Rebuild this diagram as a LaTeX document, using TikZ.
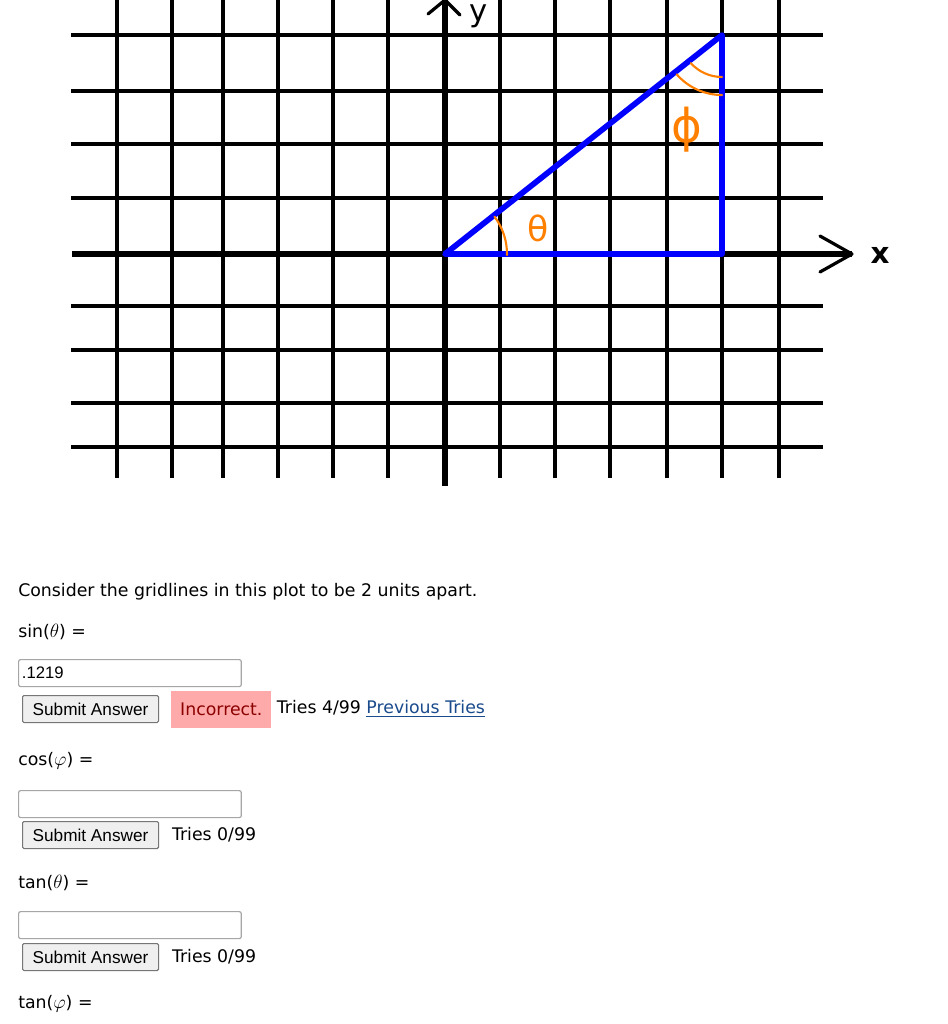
\documentclass[tikz,border=0pt]{standalone}
\usepackage{fontspec}
\usepackage{xcolor}
\usepackage{amsmath}
\setmainfont{DejaVu Sans}
\newfontfamily\btnfont{Liberation Sans}
\usepackage{tikz}
\usetikzlibrary{positioning}
\usetikzlibrary{calc}

\definecolor{triblue}{HTML}{0000FF}
\definecolor{angleorange}{HTML}{FF8000}
\definecolor{boxedge}{HTML}{A6A6A6}
\definecolor{btnfill}{HTML}{EFEFEF}
\definecolor{btnedge}{HTML}{767676}
\definecolor{wrongbg}{HTML}{FFAAAA}
\definecolor{wrongtext}{HTML}{8B0000}
\definecolor{linkblue}{HTML}{1A4B8C}

\tikzset{
    gridline/.style = {black, line width=2.3pt},
    axisline/.style = {black, line width=4pt},
    arrowarm/.style = {black, line width=2.4pt, line cap=round, line join=round},
    triline/.style = {triblue, line width=4.3pt, line join=round, line cap=round},
    anglearc/.style = {angleorange, line width=1.6pt, line cap=round},
    angletext/.style = {text=angleorange, inner sep=0pt},
    prompt/.style = {anchor=base west, inner sep=0pt, font=\fontsize{13}{15}\selectfont},
    answerbox/.style = {draw=boxedge, line width=0.9pt, rounded corners=1.5pt, anchor=north west,
        text width=162pt, minimum height=20.25pt, inner xsep=2.5pt, inner ysep=0pt,
        font=\btnfont\fontsize{12.5}{14}\selectfont},
    submitbtn/.style = {draw=btnedge, fill=btnfill, line width=0.8pt, rounded corners=1pt,
        anchor=north west, minimum width=102pt, minimum height=20.25pt, inner sep=0pt,
        font=\btnfont\fontsize{12.9}{14}\selectfont},
    verdict/.style = {fill=wrongbg, text=wrongtext, minimum width=75pt, minimum height=27.75pt,
        inner sep=0pt, font=\fontsize{13}{15}\selectfont},
    tries/.style = {inner sep=0pt, font=\fontsize{13}{15}\selectfont}
}

\begin{document}
\begin{tikzpicture}[x=0.75pt, y=-0.75pt]
    \useasboundingbox (0,0) rectangle (947,1024);
    \fill[white] (0,0) rectangle (947,1024);

    \foreach \gx in {117,172,223,278,333,388,500,555,610,667,722,779}
        \draw[gridline] (\gx,0) -- (\gx,478);
    \foreach \gy in {35,91,144,198,306,350,403,447}
        \draw[gridline] (71,\gy) -- (823,\gy);

    \coordinate (O) at (445,254);
    \coordinate (A) at (722,254);
    \coordinate (B) at (722,35);
    \coordinate (xtip) at (852,254);
    \coordinate (ytip) at (445,0);

    \draw[axisline] (72,254) -- (xtip);
    \draw[axisline] (ytip) -- (445,486);
    \draw[arrowarm] (820,236) -- (xtip) -- (820,272);
    \draw[arrowarm] (428,14) -- (ytip) -- (460,15);
    \node (xlab) [inner sep=0pt, font=\bfseries\fontsize{22}{24}\selectfont] at (880,255) {x};
    \node (ylab) [inner sep=0pt, anchor=base, font=\fontsize{23}{25}\selectfont] at (479,22) {y};

    \draw[triline] (O) -- (A) -- (B) -- cycle;

    \draw[anglearc] ([shift={(37:46.5pt)}]O) arc[start angle=37, end angle=-1, radius=46.5pt];
    \draw[anglearc] ([shift={(222:31.5pt)}]B) arc[start angle=222, end angle=270, radius=31.5pt];
    \draw[anglearc] ([shift={(221:45pt)}]B) arc[start angle=221, end angle=270, radius=45pt];
    \node (theta) [angletext, font=\fontsize{26}{28}\selectfont] at (538,228) {θ};
    \node (phi) [angletext, font=\fontsize{35}{37}\selectfont] at (687,130) {ϕ};

    \node (note) [prompt] at (18,596) {Consider the gridlines in this plot to be 2 units apart.};

    \node (sinq) [prompt] at (18,637) {sin({\fontsize{15}{16}\selectfont$\theta$}) =};
    \node (boxSin) [answerbox] at (18,659) {.1219};
    \node (btnSin) [submitbtn] at (22,695) {Submit Answer};
    \node (wrongSin) [verdict, right=9pt of btnSin] {Incorrect.};
    \node (triesSin) [tries, right=3.75pt of wrongSin] {Tries 4/99 {\color{linkblue}\underline{Previous Tries}}};

    \node (cosq) [prompt] at (18,765) {cos({\fontsize{15}{16}\selectfont$\varphi$}) =};
    \node (boxCos) [answerbox] at (18,790) {};
    \node (btnCos) [submitbtn] at (22,821) {Submit Answer};
    \node (triesCos) [tries, right=9.5pt of btnCos] {Tries 0/99};

    \node (tanq) [prompt] at (18,888) {tan({\fontsize{15}{16}\selectfont$\theta$}) =};
    \node (boxTan) [answerbox] at (18,911) {};
    \node (btnTan) [submitbtn] at (22,943) {Submit Answer};
    \node (triesTan) [tries, right=9.5pt of btnTan] {Tries 0/99};

    \node (tanpq) [prompt] at (18,1008) {tan({\fontsize{15}{16}\selectfont$\varphi$}) =};
\end{tikzpicture}
\end{document}
